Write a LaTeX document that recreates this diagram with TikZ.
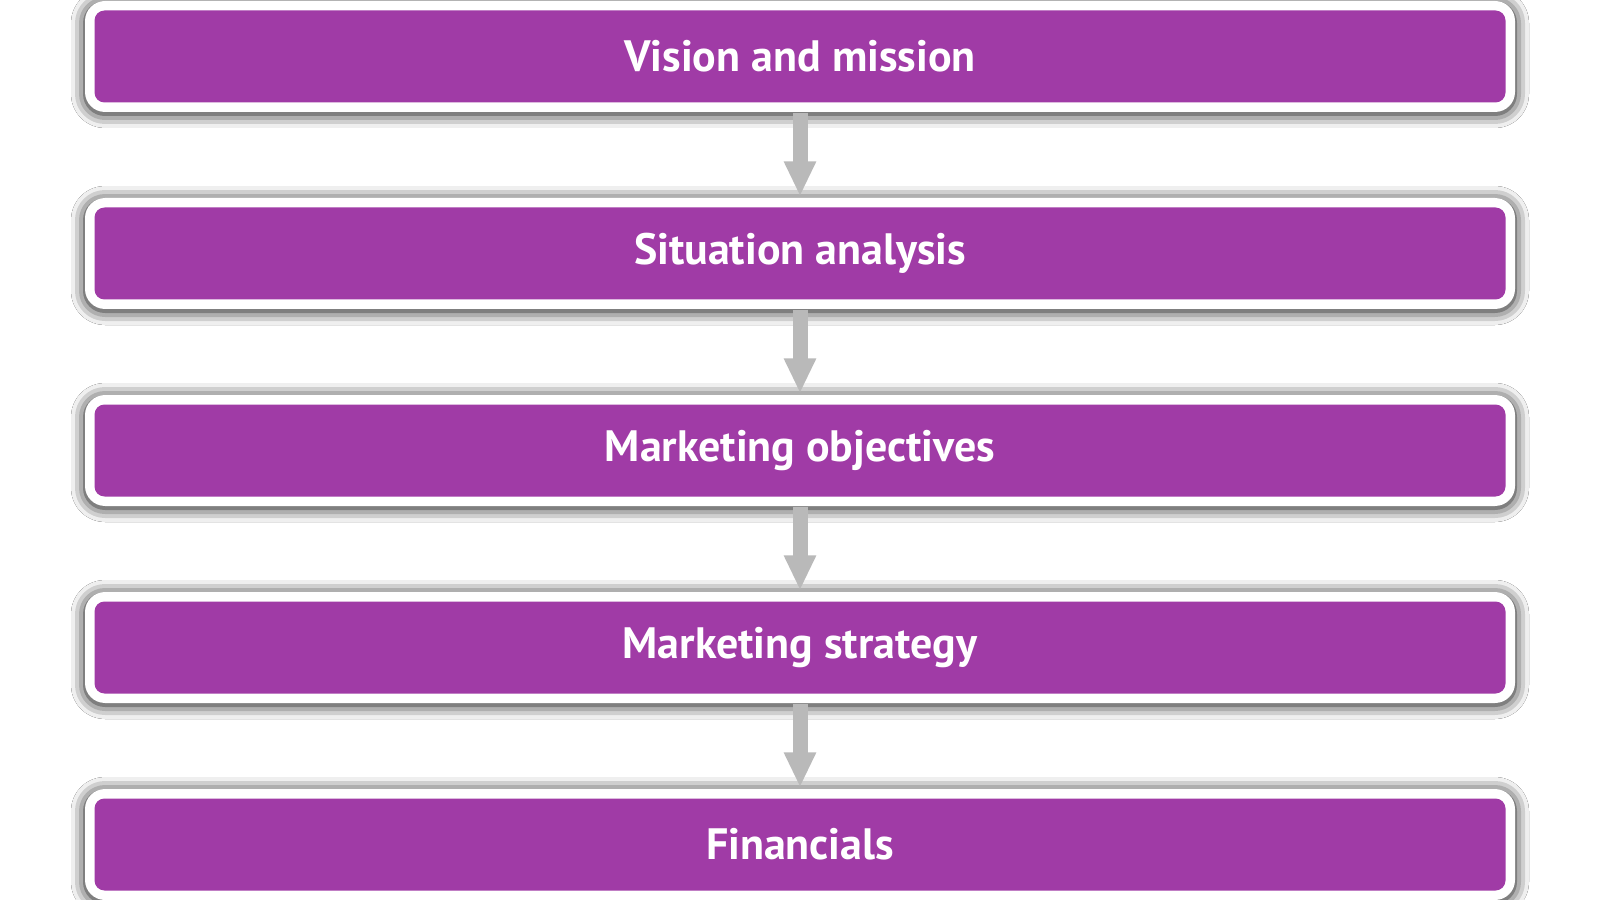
\documentclass[tikz,border=0pt]{standalone}
\usepackage{fontspec}
\setmainfont{PT Sans}
\usepackage{xcolor}
\usetikzlibrary{arrows.meta,shadows.blur}
\definecolor{planpurple}{HTML}{A03BA6}

\begin{document}
\begin{tikzpicture}[x=0.1mm,y=-0.1mm,
 stage/.style={fill=white,rounded corners=2mm,minimum width=143mm,minimum height=11.1mm,
   text=white,font=\fontsize{12.5}{15}\selectfont\bfseries,
   path picture={\fill[planpurple,rounded corners=1mm]
     ([shift={(0.95mm,0.95mm)}]path picture bounding box.south west) rectangle
     ([shift={(-0.95mm,-0.95mm)}]path picture bounding box.north east);},
   blur shadow={shadow xshift=0mm,shadow yshift=-0.2mm,shadow blur radius=1.4mm,shadow opacity=100,shadow blur extra rounding}},
 flow/.style={-{Triangle[width=3mm,length=3.5mm]},line width=1.5mm,draw=gray!55,shorten >=0.1mm}]
\fill[white] (0,0) rectangle (1600,900);
\clip (0,0) rectangle (1600,900);
\node[stage] (vis) at (800,56.5) {Vision and mission};
\node[stage] (sit) at (800,253.5) {Situation analysis};
\node[stage] (obj) at (800,450.5) {Marketing objectives};
\node[stage] (str) at (800,647.5) {Marketing strategy};
\node[stage] (fin) at (800,844.5) {Financials};
\draw[flow] (vis) -- (sit);
\draw[flow] (sit) -- (obj);
\draw[flow] (obj) -- (str);
\draw[flow] (str) -- (fin);
\end{tikzpicture}
\end{document}
